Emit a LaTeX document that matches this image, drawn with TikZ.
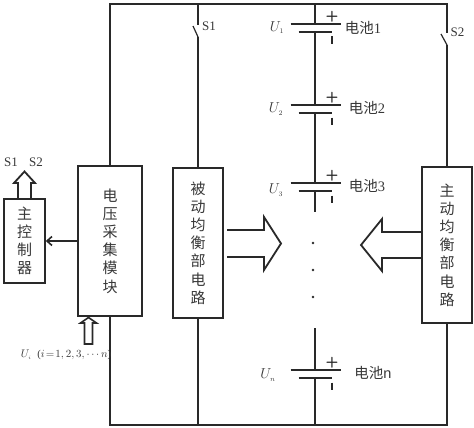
\documentclass[tikz,border=0pt]{standalone}
\usepackage{fontspec}
\setmainfont{Liberation Serif}
\newfontfamily\cjkf{Noto Sans CJK SC}[Scale=1]
\usetikzlibrary{calc,arrows.meta}
\definecolor{ink}{gray}{0.16}
\definecolor{txt}{gray}{0.22}
\tikzset{
  x=1pt,y=-1pt,
  wire/.style={draw=ink,line width=1.6pt},
  boxed/.style={draw=ink,line width=1.6pt,fill=white,inner sep=0pt,minimum width=#1,align=center,text=txt},
  vtext/.style={font=\cjkf\fontsize{15}{18.2}\selectfont},
  plate/.style={draw=ink,line width=1.6pt},
  cell/.style={font=\cjkf\fontsize{14.5}{16}\selectfont,text=txt,inner sep=0pt},
  lat/.style={font=\fontsize{13}{14}\selectfont,text=txt,inner sep=0pt},
  volt/.style={font=\fontsize{15}{16}\selectfont,text=txt,inner sep=0pt},
  hollow/.style={draw=ink,line width=1.8pt,miter limit=6,line join=miter},
  sign/.style={font=\sffamily\bfseries\fontsize{15}{15}\selectfont,text=ink,inner sep=0pt},
  dotnode/.style={circle,fill=ink,inner sep=0pt,minimum size=2.6pt},
}
\begin{document}
\begin{tikzpicture}
\useasboundingbox (0,0) rectangle (474,428);
\fill[white] (0,0) rectangle (474,428);

% corners and junctions
\coordinate (tl) at (110,4);
\coordinate (ts1) at (198,4);
\coordinate (tc) at (315,4);
\coordinate (tr) at (447,4);
\coordinate (bl) at (110,425);
\coordinate (bc) at (315,425);
\coordinate (br) at (447,425);

% boxes
\node[boxed=64pt,minimum height=150pt,vtext] (volt) at (110,241) {电\\压\\采\\集\\模\\块};
\node[boxed=41pt,minimum height=84pt,vtext] (ctrl) at (24.5,241) {主\\控\\制\\器};
\node[boxed=50pt,minimum height=150pt,vtext] (pass) at (198,243) {被\\动\\均\\衡\\部\\电\\路};
\node[boxed=50pt,minimum height=156pt,vtext] (act) at (447,245) {主\\动\\均\\衡\\部\\电\\路};

% frame
\draw[wire] (volt.north) -- (tl) -- (tr) -- (447,33);
\draw[wire] (volt.south) -- (bl) -- (br) -- (act.south);
\draw[wire] (pass.south) -- (pass.south |- bl);

% switches
\coordinate (s1a) at (198,25);
\coordinate (s1b) at (198,37);
\coordinate (s2b) at (447,45);
\draw[wire] (ts1) -- (s1a);
\draw[wire,line width=1.2pt] (193,26) -- (s1b);
\draw[wire] (s1b) -- (pass.north);
\draw[wire,line width=1.2pt] (441,34) -- (s2b);
\draw[wire] (s2b) -- (act.north);
\node[lat] (ls1) at (209,26) {S1};
\node[lat] (ls2) at (457.5,32) {S2};

% batteries
\foreach \n/\y in {1/24,2/105,3/183,4/370}{
  \coordinate (lp\n) at (315,\y);
  \coordinate (sp\n) at (315,\y+8);
  \draw[plate] (290.5,\y) -- (341,\y);
  \draw[plate] (298.5,\y+8) -- (332,\y+8);
  \node[sign] (plus\n) at (332,\y-7) {+};
  \draw[line width=1.8pt,draw=ink] (332,\y+12.5) -- (332,\y+20);
}
\coordinate (cend) at (315,212);
\coordinate (cstart) at (315,328);
\draw[wire] (tc) -- (lp1);
\draw[wire] (sp1) -- (lp2);
\draw[wire] (sp2) -- (lp3);
\draw[wire] (sp3) -- (cend);
\draw[wire] (cstart) -- (lp4);
\draw[wire] (sp4) -- (bc);

% battery labels
\node[volt] (u1) at (277,28) {$U_{\scriptscriptstyle 1}$};
\node[volt] (u2) at (276,109) {$U_{\scriptscriptstyle 2}$};
\node[volt] (u3) at (276,190) {$U_{\scriptscriptstyle 3}$};
\node[volt] (un) at (268,375) {$U_{\scriptscriptstyle n}$};
\node[cell] (b1) at (363,28) {电池\fontspec{Liberation Serif}1};
\node[cell] (b2) at (367,108) {电池\fontspec{Liberation Serif}2};
\node[cell] (b3) at (367,186) {电池\fontspec{Liberation Serif}3};
\node[cell] (bn) at (373,373) {电池\fontspec{Liberation Sans}n};

% dots
\node[dotnode] (d1) at (313,243) {};
\node[dotnode] (d2) at (313,270) {};
\node[dotnode] (d3) at (313,297) {};

% big hollow arrows
\draw[hollow] (227,230) -- (264,230) -- (264,217) -- (281,243.5) -- (264,270) -- (264,257) -- (227,257);
\draw[hollow] (act.west |- 0,232) -- (382,232) -- (382,219) -- (361,245) -- (382,271) -- (382,258) -- (act.west |- 0,258);

% controller links
\draw[wire,-{Straight Barb[length=5pt,width=9pt,line width=1.6pt]}] (volt.west |- ctrl.east) -- (ctrl.east);
\draw[hollow] (18,199) -- (18,183) -- (14,183) -- (24.5,171.5) -- (35,183) -- (31,183) -- (31,199);
\node[lat] (ls1c) at (11,162) {S1};
\node[lat] (ls2c) at (36,162) {S2};

% sense arrow
\draw[hollow,line width=1.6pt] (84.5,344) -- (84.5,323) -- (80.5,323) -- (88.5,317.5) -- (96.5,323) -- (92.5,323) -- (92.5,344) -- cycle;
\node[lat,font=\fontsize{10.5}{12}\selectfont] (ui) at (66,355) {$U_{\scriptscriptstyle i}$\;\;($i\!=\!1,2,3,\cdots n$)};
\end{tikzpicture}
\end{document}
